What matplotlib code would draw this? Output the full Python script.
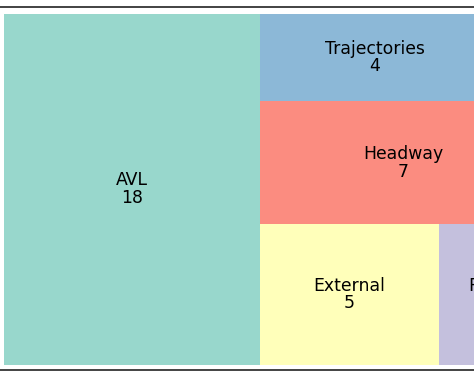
import matplotlib
matplotlib.use("Agg")
import matplotlib.pyplot as plt
from matplotlib.patches import Rectangle

# treemap data (order = colour order)
labels = ["AVL", "External", "Paths", "Headway", "Trajectories", "Other"]
counts = [18, 5, 3, 7, 4, 1]
# first item takes a full-height column, the rest are split in rows (bottom -> top)
rows = [[1, 2], [3], [4, 5]]

colors = [plt.cm.Set3(i) for i in range(len(labels))]

fig = plt.figure(figsize=(4.74, 3.77), dpi=100)
# axes deliberately wider than the figure: the right part of the map is cut off
ax = fig.add_axes([-6 / 474, 7 / 377, 561 / 474, 363 / 377])

box_w, box_h = 541.5, 351.5
total = sum(counts)


def draw(i, x, y, w, h):
    ax.add_patch(Rectangle((x, y), w, h, facecolor=colors[i], alpha=0.9, linewidth=0))
    ax.text(x + w / 2, y + h / 2, f"{labels[i]}\n{counts[i]}",
            ha="center", va="center", fontsize=12.4, linespacing=0.97,
            clip_on=True)


# first column
col_w = box_w * counts[0] / total
draw(0, 0, 0, col_w, box_h)

# remaining rows
rest = total - counts[0]
rest_w = box_w - col_w
y = 0
for row in rows:
    row_sum = sum(counts[i] for i in row)
    h = box_h * row_sum / rest
    x = col_w
    for i in row:
        w = rest_w * counts[i] / row_sum
        draw(i, x, y, w, h)
        x += w
    y += h

ax.set_xlim(-10, 551)
ax.set_ylim(-5, 358)
ax.set_xticks([])
ax.set_yticks([])
for s in ax.spines.values():
    s.set_color("#222222")
    s.set_linewidth(1.2)

fig.savefig("out.png", dpi=100)
